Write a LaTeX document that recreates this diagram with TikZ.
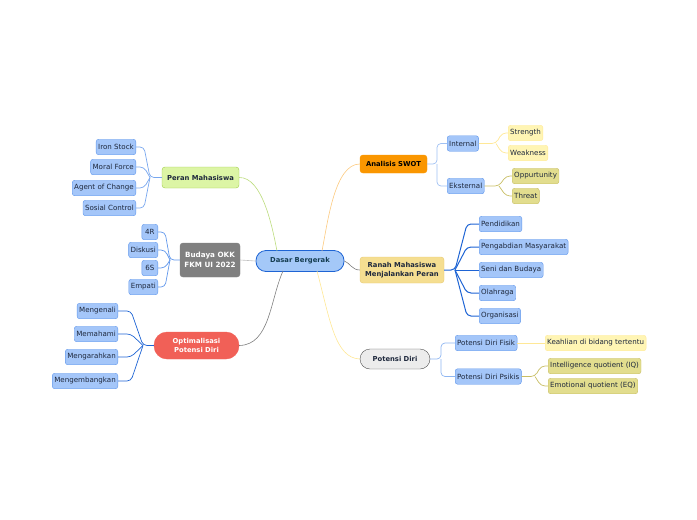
\documentclass[tikz,border=0pt]{standalone}
\usepackage{fontspec}
\setmainfont{DejaVu Sans}
\usetikzlibrary{positioning}

\definecolor{leafblue}{RGB}{164,198,249}
\definecolor{leafedge}{RGB}{95,150,235}
\definecolor{centrefill}{RGB}{164,200,248}
\definecolor{centreedge}{RGB}{30,100,212}
\definecolor{centretext}{RGB}{20,60,80}
\definecolor{peranfill}{RGB}{220,245,165}
\definecolor{peranedge}{RGB}{160,205,70}
\definecolor{okkgray}{RGB}{128,128,128}
\definecolor{optired}{RGB}{241,96,87}
\definecolor{swotorange}{RGB}{250,150,0}
\definecolor{ranahfill}{RGB}{245,222,145}
\definecolor{ranahedge}{RGB}{230,200,110}
\definecolor{potfill}{RGB}{236,236,236}
\definecolor{potedge}{RGB}{80,80,80}
\definecolor{paleyellow}{RGB}{255,245,180}
\definecolor{paleedge}{RGB}{255,232,150}
\definecolor{khaki}{RGB}{226,221,142}
\definecolor{khakiedge}{RGB}{200,190,100}
\definecolor{textdark}{RGB}{30,40,60}

\begin{document}
\begin{tikzpicture}[
      x=1pt, y=-1pt,
      leaf/.style={
          rectangle,
          rounded corners=2.5pt,
          draw=leafedge,
          fill=leafblue,
          text=textdark,
          font=\fontsize{7.1}{8}\selectfont,
          minimum height=15.5pt,
          inner xsep=2pt,
          inner ysep=0pt
        },
      yleaf/.style={leaf, draw=paleedge, fill=paleyellow},
      kleaf/.style={leaf, draw=khakiedge, fill=khaki},
      topic/.style={
          rectangle,
          rounded corners=3pt,
          draw,
          font=\bfseries\fontsize{6.8}{8.4}\selectfont,
          align=center,
          inner xsep=3pt,
          inner ysep=0pt
        },
      twig/.style={line width=0.7pt, rounded corners=4pt},
      bough/.style={line width=0.6pt}
    ]
    \useasboundingbox (0,0) rectangle (697,520);

    % Centre and main topics
    \node[topic, rounded corners=10pt, draw=centreedge, fill=centrefill, text=centretext,
          minimum width=88pt, minimum height=21pt, line width=0.8pt] at (300,261) (dasar) {Dasar Bergerak};
    \node[topic, draw=peranedge, fill=peranfill, text=textdark,
          minimum width=77pt, minimum height=21pt] at (200.5,177.5) (peran) {Peran Mahasiswa};
    \node[topic, draw=okkgray, fill=okkgray, text=white,
          minimum width=60pt, minimum height=34pt, font=\bfseries\fontsize{7.2}{10}\selectfont] at (210,260) (okk) {Budaya OKK\\FKM UI 2022};
    \node[topic, rounded corners=13pt, draw=optired, fill=optired, text=white,
          minimum width=85pt, minimum height=27pt] at (196.5,345.5) (opti) {Optimalisasi\\Potensi Diri};
    \node[topic, draw=swotorange, fill=swotorange, text=black,
          minimum width=67pt, minimum height=18pt] at (393.5,164) (swot) {Analisis SWOT};
    \node[topic, draw=ranahedge, fill=ranahfill, text=textdark,
          minimum width=84pt, minimum height=26pt] at (402,270) (ranah) {Ranah Mahasiswa\\Menjalankan Peran};
    \node[topic, rounded corners=10pt, draw=potedge, fill=potfill, text=textdark,
          minimum width=70pt, minimum height=20pt] at (395,359) (potensi) {Potensi Diri};

    % Branches from the centre
    \draw[bough, peranedge!70] (peran.east) .. controls (262,177) and (272,225) .. (277,251);
    \draw[bough, okkgray!50] (okk.east) -- (dasar.west);
    \draw[bough, okkgray] (opti.east) .. controls (270,345) and (270,300) .. (283,271);
    \draw[bough, swotorange!50] (swot.west) .. controls (335,164) and (328,220) .. (322,251);
    \draw[bough, okkgray] (dasar.east) .. controls (350,263) and (352,270) .. (ranah.west);
    \draw[bough, paleedge] (potensi.west) .. controls (335,358) and (330,320) .. (317,271);

    % Peran Mahasiswa leaves
    \node[leaf, anchor=east] at (136,147) (iron)   {Iron Stock};
    \node[leaf, anchor=east] at (136,167) (moral)  {Moral Force};
    \node[leaf, anchor=east] at (136,188) (agent)  {Agent of Change};
    \node[leaf, anchor=east] at (136,208) (sosial) {Sosial Control};
    \coordinate (pj) at (150,177.5);
    \draw[twig, leafedge!85] (peran.west) -- (pj) -- (144,147) -- (iron.east);
    \draw[twig, leafedge!85] (pj) -- (144,167) -- (moral.east);
    \draw[twig, leafedge!85] (pj) -- (144,188) -- (agent.east);
    \draw[twig, leafedge!85] (pj) -- (144,208) -- (sosial.east);

    % Budaya OKK leaves
    \node[leaf, anchor=east, minimum width=16pt] at (158,232) (empatr) {4R};
    \node[leaf, anchor=east] at (158,250) (diskusi) {Diskusi};
    \node[leaf, anchor=east, minimum width=16pt] at (158,268) (enams)  {6S};
    \node[leaf, anchor=east] at (158,287) (empati) {Empati};
    \coordinate (oj) at (170,260);
    \draw[twig, leafedge] (okk.west) -- (oj) -- (165,232) -- (empatr.east);
    \draw[twig, leafedge] (oj) -- (165,250) -- (diskusi.east);
    \draw[twig, leafedge] (oj) -- (165,268) -- (enams.east);
    \draw[twig, leafedge] (oj) -- (165,287) -- (empati.east);

    % Optimalisasi leaves
    \node[leaf, anchor=east] at (118,311) (kenal)  {Mengenali};
    \node[leaf, anchor=east] at (118,334) (paham)  {Memahami};
    \node[leaf, anchor=east] at (118,357) (arah)   {Mengarahkan};
    \node[leaf, anchor=east] at (118,381) (kembang) {Mengembangkan};
    \coordinate (xj) at (143,345.5);
    \draw[twig, centreedge] (opti.west) -- (xj) -- (131,311) -- (kenal.east);
    \draw[twig, centreedge] (xj) -- (131,334) -- (paham.east);
    \draw[twig, centreedge] (xj) -- (131,357) -- (arah.east);
    \draw[twig, centreedge] (xj) -- (131,381) -- (kembang.east);

    % Analisis SWOT
    \node[leaf, anchor=west] at (447,143.5) (internal) {Internal};
    \node[leaf, anchor=west] at (447,186) (eksternal) {Eksternal};
    \coordinate (sj) at (437,164);
    \draw[twig, leafedge!60] (swot.east) -- (sj) -- (437,143.5) -- (internal.west);
    \draw[twig, leafedge!60] (sj) -- (437,186) -- (eksternal.west);
    \node[yleaf, anchor=west] at (508,133) (strength) {Strength};
    \node[yleaf, anchor=west] at (508,153) (weakness) {Weakness};
    \coordinate (ij) at (496,143.5);
    \draw[twig, paleedge] (internal.east) -- (ij) -- (502,133) -- (strength.west);
    \draw[twig, paleedge] (ij) -- (502,153) -- (weakness.west);
    \node[kleaf, anchor=west] at (512,176) (oppurtunity) {Oppurtunity};
    \node[kleaf, anchor=west] at (512,196) (threat) {Threat};
    \coordinate (ej) at (499,186);
    \draw[twig, khakiedge] (eksternal.east) -- (ej) -- (506,176) -- (oppurtunity.west);
    \draw[twig, khakiedge] (ej) -- (506,196) -- (threat.west);

    % Ranah Mahasiswa leaves
    \node[leaf, anchor=west] at (479,224) (didik)  {Pendidikan};
    \node[leaf, anchor=west] at (479,247) (abdi)   {Pengabdian Masyarakat};
    \node[leaf, anchor=west] at (479,270) (seni)   {Seni dan Budaya};
    \node[leaf, anchor=west] at (479,293) (olah)   {Olahraga};
    \node[leaf, anchor=west] at (479,316) (organ)  {Organisasi};
    \coordinate (rj) at (455,270);
    \draw[twig, centreedge, line width=1pt] (ranah.east) -- (rj) -- (467,224) -- (didik.west);
    \draw[twig, centreedge, line width=1pt] (rj) -- (467,247) -- (abdi.west);
    \draw[twig, centreedge, line width=1pt] (rj) -- (seni.west);
    \draw[twig, centreedge, line width=1pt] (rj) -- (467,293) -- (olah.west);
    \draw[twig, centreedge, line width=1pt] (rj) -- (467,316) -- (organ.west);

    % Potensi Diri
    \node[leaf, anchor=west] at (455,343) (fisik)  {Potensi Diri Fisik};
    \node[leaf, anchor=west] at (455,376.5) (psikis) {Potensi Diri Psikis};
    \coordinate (dj) at (441,359);
    \draw[twig, leafedge!70] (potensi.east) -- (dj) -- (441,343) -- (fisik.west);
    \draw[twig, leafedge!70] (dj) -- (441,376.5) -- (psikis.west);
    \node[yleaf, anchor=west] at (545,343) (keahlian) {Keahlian di bidang tertentu};
    \draw[twig, paleedge] (fisik.east) -- (keahlian.west);
    \node[kleaf, anchor=west] at (548,366) (iq) {Intelligence quotient (IQ)};
    \node[kleaf, anchor=west] at (548,386) (eq) {Emotional quotient (EQ)};
    \coordinate (qj) at (535,376.5);
    \draw[twig, khakiedge] (psikis.east) -- (qj) -- (541,366) -- (iq.west);
    \draw[twig, khakiedge] (qj) -- (541,386) -- (eq.west);
  \end{tikzpicture}
\end{document}
